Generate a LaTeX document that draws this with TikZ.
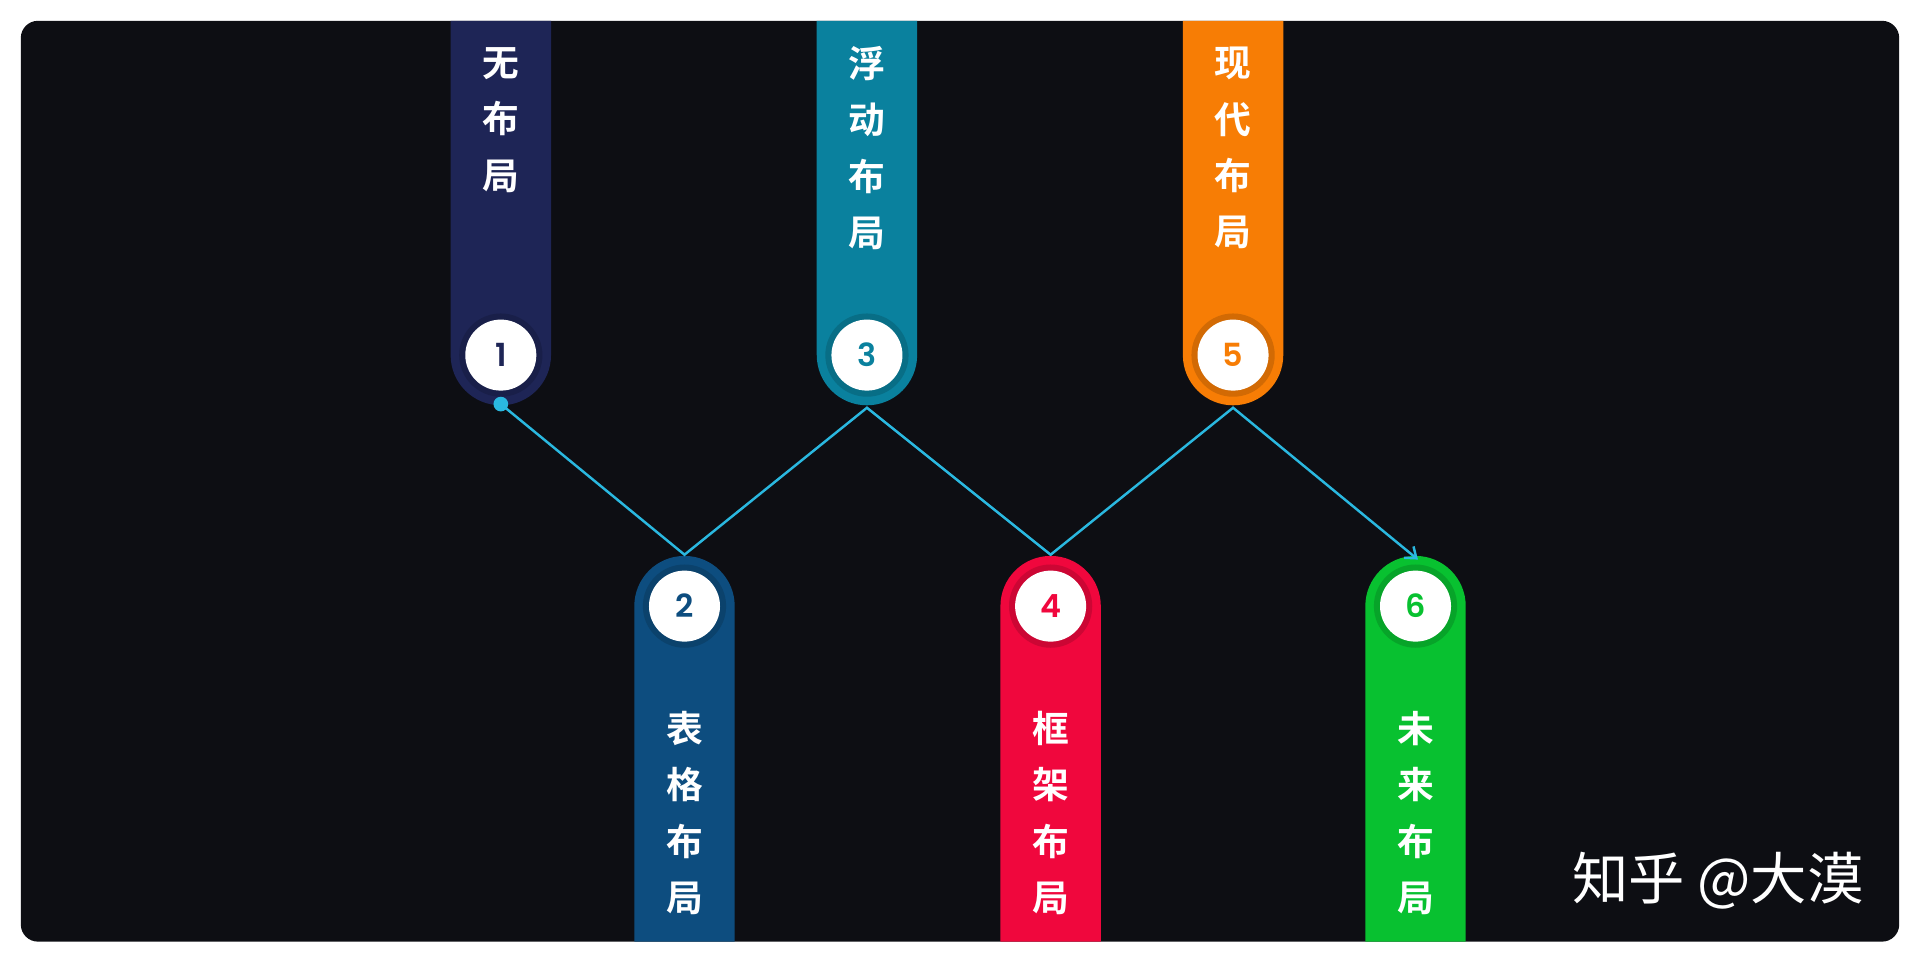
\documentclass[tikz,border=0pt]{standalone}
\usepackage{fontspec}
\newfontfamily\cjk{Noto Sans CJK SC Bold}
\newfontfamily\cjkr{Noto Sans CJK SC}
\newfontfamily\numf{Poppins SemiBold}
\usetikzlibrary{arrows.meta}
\definecolor{bgd}{HTML}{0D0E13}
\definecolor{cA}{HTML}{1E2556}
\definecolor{cB}{HTML}{0D4D7F}
\definecolor{cC}{HTML}{0A819E}
\definecolor{cD}{HTML}{F0073D}
\definecolor{cE}{HTML}{F77D05}
\definecolor{cF}{HTML}{08C130}
\definecolor{ln}{HTML}{2AB8E0}
\tikzset{
 lab/.style={text=white,font=\cjk\fontsize{30}{46}\selectfont,align=center,inner sep=0},
 num/.style={circle,fill=white,minimum size=58pt,inner sep=0,font=\numf\fontsize{26}{30}\selectfont},
 conn/.style={draw=ln,line width=2pt}
}
\begin{document}
\begin{tikzpicture}[x=1pt,y=-1pt]
\useasboundingbox (0,0) rectangle (1568,786);
\fill[white] (0,0) rectangle (1568,786);
\fill[bgd,rounded corners=14pt] (17,17) rectangle (1551,769);
\begin{scope}
\clip[rounded corners=14pt] (17,17) rectangle (1551,769);
\foreach \x/\c in {409/cA,708/cC,1007/cE}{
 \fill[\c] (\x-41,0) -- (\x-41,290) arc[start angle=180,end angle=0,radius=41] -- (\x+41,0) -- cycle;
 \fill[\c!85!black] (\x,290) circle (34);
}
\foreach \x/\c in {559/cB,858/cD,1156/cF}{
 \fill[\c] (\x-41,800) -- (\x-41,495) arc[start angle=180,end angle=360,radius=41] -- (\x+41,800) -- cycle;
 \fill[\c!85!black] (\x,495) circle (34);
}
\end{scope}
\node[num,text=cA] (n1) at (409,290) {1};
\node[num,text=cC] (n3) at (708,290) {3};
\node[num,text=cE] (n5) at (1007,290) {5};
\node[num,text=cB] (n2) at (559,495) {2};
\node[num,text=cD] (n4) at (858,495) {4};
\node[num,text=cF] (n6) at (1156,495) {6};
\node[lab] (t1) at (409,98) {无\\布\\局};
\node[lab] (t3) at (708,121) {浮\\动\\布\\局};
\node[lab] (t5) at (1007,121) {现\\代\\布\\局};
\node[lab] (t2) at (559,664) {表\\格\\布\\局};
\node[lab] (t4) at (858,664) {框\\架\\布\\局};
\node[lab] (t6) at (1156,664) {未\\来\\布\\局};
\coordinate (p1) at (409,330);
\coordinate (p2) at (559,453);
\coordinate (p3) at (708,333);
\coordinate (p4) at (858,453);
\coordinate (p5) at (1007,333);
\coordinate (p6) at (1158,457);
\fill[ln] (p1) circle (6);
\draw[conn,-{Straight Barb[length=8pt,width=12pt]}] (p1) -- (p2) -- (p3) -- (p4) -- (p5) -- (p6);
\node[text=white,font=\cjkr\fontsize{46}{48}\selectfont,anchor=center] (wm) at (1403,719) {知乎 @大漠};
\end{tikzpicture}
\end{document}
